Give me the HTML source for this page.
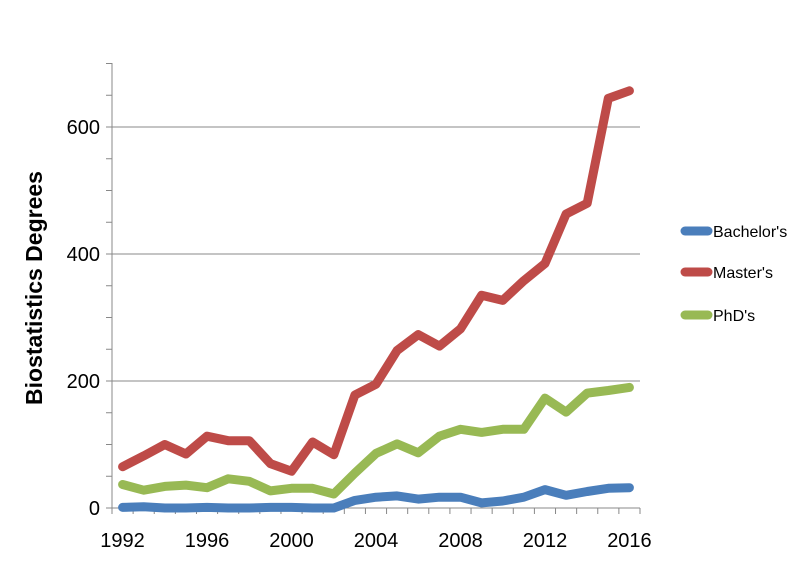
<!DOCTYPE html>
<html><head><style>body{margin:0;background:#fff}</style></head><body>
<svg width="800" height="580" xmlns="http://www.w3.org/2000/svg" font-family="Liberation Sans, sans-serif">
<rect width="800" height="580" fill="#fff"/>
<g id="grid" stroke="#888" stroke-width="1"></g>
<g id="series" fill="none" stroke-width="9" stroke-linejoin="round" stroke-linecap="round"></g>
<g id="labels" font-size="20" fill="#000"></g>
<text transform="translate(42,288) rotate(-90)" text-anchor="middle" font-size="23" font-weight="bold">Biostatistics Degrees</text>
<line x1="685" y1="231" x2="708" y2="231" stroke="#4a7ebb" stroke-width="9" stroke-linecap="round"/>
<line x1="685" y1="272" x2="708" y2="272" stroke="#be4b48" stroke-width="9" stroke-linecap="round"/>
<line x1="685" y1="315" x2="708" y2="315" stroke="#98b954" stroke-width="9" stroke-linecap="round"/>
<text x="713" y="237" font-size="16">Bachelor's</text>
<text x="713" y="278" font-size="16">Master's</text>
<text x="713" y="321" font-size="16">PhD's</text>
</svg>
<script>
const ns="http://www.w3.org/2000/svg";
const y0=508,k=381/600,x0=112,w=(640-112)/25;
const Y=v=>y0-v*k, X=i=>x0+w*(i+0.5);
const g=document.getElementById('grid'),s=document.getElementById('series'),lb=document.getElementById('labels');
function el(p,t,a,txt){const e=document.createElementNS(ns,t);for(const q in a)e.setAttribute(q,a[q]);if(txt!==undefined)e.textContent=txt;p.appendChild(e);return e;}
el(g,'line',{x1:x0,y1:63,x2:x0,y2:y0});
el(g,'line',{x1:x0,y1:y0,x2:640,y2:y0});
for(let v=0;v<=700;v+=50){el(g,'line',{x1:106,y1:Y(v),x2:x0,y2:Y(v)});}
for(let v=200;v<=600;v+=200){el(g,'line',{x1:x0,y1:Y(v),x2:640,y2:Y(v)});}
for(let i=0;i<=25;i++){el(g,'line',{x1:x0+w*i,y1:y0,x2:x0+w*i,y2:y0+6});}
for(let v=0;v<=600;v+=200)el(lb,'text',{x:100,y:Y(v)+7,'text-anchor':'end'},v);
for(let i=0;i<=24;i+=4)el(lb,'text',{x:X(i),y:547,'text-anchor':'middle'},1992+i);
const data=[
["#4a7ebb",[1,2,0,0,1,0,0,1,1,0,0,12,17,19,14,17,17,8,11,17,29,20,26,31,32]],
["#be4b48",[65,82,100,85,113,106,106,70,58,104,84,178,195,248,273,255,282,335,327,358,385,463,480,645,657]],
["#98b954",[37,28,34,36,32,46,42,27,31,31,22,55,86,101,87,113,124,119,124,124,173,151,181,185,190]]];
for(const [c,d] of data){el(s,'polyline',{stroke:c,points:d.map((v,i)=>X(i).toFixed(1)+','+Y(v).toFixed(1)).join(' ')});}
</script>
</body></html>
